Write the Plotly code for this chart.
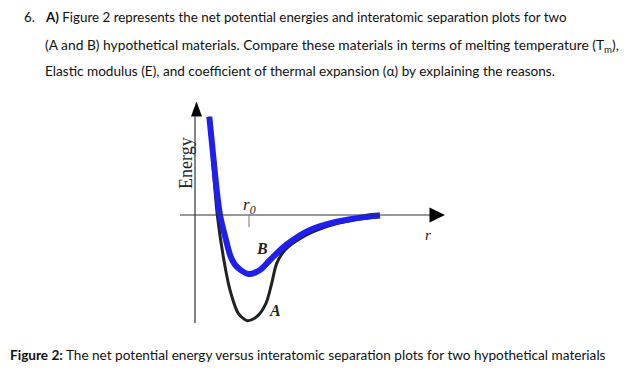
import plotly.graph_objects as go

# ---- data (r in arbitrary units, energy in arbitrary units) ----
r_A = [1.43, 1.73, 2.0, 2.23, 2.83, 3.5, 4.33, 5.23, 6.17, 7.1, 7.67, 8.17, 9.0, 10.83, 13.17, 15.8, 18.5]
E_A = [9.83, 5.83, 2.5, 0.0, -4.17, -7.5, -9.83, -10.57, -10.17, -8.83, -6.83, -4.83, -3.5, -2.17, -1.17, -0.5, -0.17]
r_B = [1.43, 1.83, 2.17, 2.5, 3.1, 3.57, 4.17, 5.33, 6.5, 7.5, 9.17, 11.5, 14.17, 17.17, 18.5]
E_B = [9.83, 5.83, 2.5, 0.0, -2.5, -4.17, -5.17, -5.9, -5.5, -4.5, -2.95, -1.5, -0.67, -0.17, -0.03]
r0 = 5.4

# axis extents
x_axis_start, x_axis_end = -1.5, 25.0
y_axis_bottom, y_axis_top = -10.8, 11.35

OFF = 8  # page body margin in px
W, H = 635, 385

fig = go.Figure()
fig.add_trace(go.Scatter(x=r_A, y=E_A, mode="lines", line=dict(color="#222222", width=3, shape="spline", smoothing=0.8),
                         hoverinfo="skip", showlegend=False))
fig.add_trace(go.Scatter(x=r_B, y=E_B, mode="lines", line=dict(color="#1f1ff0", width=6, shape="spline", smoothing=0.8),
                         hoverinfo="skip", showlegend=False))

ax_col = "#333333"
shapes = [
    dict(type="line", x0=x_axis_start, y0=0, x1=x_axis_end - 1.5, y1=0, line=dict(color=ax_col, width=1.2)),
    dict(type="line", x0=0, y0=y_axis_bottom, x1=0, y1=y_axis_top - 1.5, line=dict(color=ax_col, width=1.2)),
    dict(type="path", path=f"M {x_axis_end-1.55},0.75 L {x_axis_end},0 L {x_axis_end-1.55},-0.75 Z",
         fillcolor="black", line=dict(color="black", width=0)),
    dict(type="path", path=f"M -0.4,{y_axis_top-1.5} L 0.15,{y_axis_top} L 0.7,{y_axis_top-1.5} Z",
         fillcolor="black", line=dict(color="black", width=0)),
    dict(type="line", x0=r0, y0=0, x1=r0, y1=-1.2, line=dict(color="#777777", width=1)),
]

serif = "Liberation Serif"
body = "Lato"

def ptext(x, y, text, size=13.6):
    return dict(xref="paper", yref="paper", x=(x - OFF) / W, y=1 - (y - OFF) / H, xanchor="left", yanchor="middle",
                showarrow=False, align="left", text=text, font=dict(family=body, size=size, color="#111"))

annotations = [
    dict(x=r0, y=0.9, text="<i>r<sub>0</sub></i>", showarrow=False, font=dict(family=serif, size=17, color="#222")),
    dict(x=23.3, y=-2.0, text="<i>r</i>", showarrow=False, font=dict(family=serif, size=15, color="#222")),
    dict(x=-0.9, y=5.2, text="Energy", textangle=-90, showarrow=False, font=dict(family=serif, size=18, color="#222")),
    dict(x=6.7, y=-3.3, text="<b><i>B</i></b>", showarrow=False, font=dict(family=serif, size=16, color="#222")),
    dict(x=8.0, y=-9.5, text="<b><i>A</i></b>", showarrow=False, font=dict(family=serif, size=16, color="#222")),
    ptext(22, 17, "6.", 13.4),
    ptext(43, 17, "<b>A)</b> Figure 2 represents the net potential energies and interatomic separation plots for two", 13.35),
    ptext(43, 45, "(A and B) hypothetical materials. Compare these materials in terms of melting temperature (T<sub>m</sub>),", 13.8),
    ptext(43, 71, "Elastic modulus (E), and coefficient of thermal expansion (α) by explaining the reasons.", 13.6),
    ptext(8, 355, "<b>Figure 2:</b> The net potential energy versus interatomic separation plots for two hypothetical materials", 13.6),
]

# pixel mapping: page_x = 195 + 10*r, page_y = 215 - 10*E ; figure origin at page (OFF, OFF)
x0_r = -(195 - OFF) / 10.0
y_top_E = (215 - OFF) / 10.0
fig.update_layout(
    width=W, height=H, margin=dict(l=0, r=0, t=0, b=0),
    paper_bgcolor="white", plot_bgcolor="white",
    xaxis=dict(range=[x0_r, x0_r + W / 10.0], visible=False, fixedrange=True),
    yaxis=dict(range=[y_top_E - H / 10.0, y_top_E], visible=False, fixedrange=True),
    shapes=shapes, annotations=annotations, showlegend=False,
)
fig.write_html("out.html")
